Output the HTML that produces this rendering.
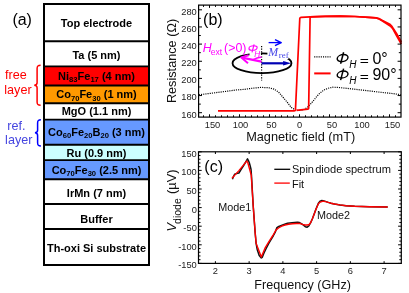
<!DOCTYPE html>
<html><head><meta charset="utf-8"><style>
html,body{margin:0;padding:0;background:#fff;width:409px;height:293px;overflow:hidden}
svg{display:block;font-family:"Liberation Sans", sans-serif;will-change:transform}
</style></head><body>
<svg width="409" height="293" viewBox="0 0 409 293">
<rect width="409" height="293" fill="#fff"/>
<text x="12.4" y="24.9" font-size="16">(a)</text>
<rect x="44" y="66.4" width="105" height="19.10" fill="#ff0000"/>
<rect x="44" y="85.5" width="105" height="17.70" fill="#ff9900"/>
<rect x="44" y="119.6" width="105" height="25.20" fill="#6699ff"/>
<rect x="44" y="144.8" width="105" height="15.30" fill="#ccffff"/>
<rect x="44" y="160.1" width="105" height="19.10" fill="#6699ff"/>
<line x1="44" y1="41.3" x2="149" y2="41.3" stroke="#000" stroke-width="1.9"/>
<line x1="44" y1="66.4" x2="149" y2="66.4" stroke="#000" stroke-width="1.9"/>
<line x1="44" y1="85.5" x2="149" y2="85.5" stroke="#000" stroke-width="1.9"/>
<line x1="44" y1="103.2" x2="149" y2="103.2" stroke="#000" stroke-width="1.9"/>
<line x1="44" y1="119.6" x2="149" y2="119.6" stroke="#000" stroke-width="1.9"/>
<line x1="44" y1="144.8" x2="149" y2="144.8" stroke="#000" stroke-width="1.9"/>
<line x1="44" y1="160.1" x2="149" y2="160.1" stroke="#000" stroke-width="1.9"/>
<line x1="44" y1="179.2" x2="149" y2="179.2" stroke="#000" stroke-width="1.9"/>
<line x1="44" y1="204" x2="149" y2="204" stroke="#000" stroke-width="1.9"/>
<line x1="44" y1="229" x2="149" y2="229" stroke="#000" stroke-width="1.9"/>
<rect x="44" y="4" width="105" height="261.00" fill="none" stroke="#000" stroke-width="2"/>
<text x="96.5" y="26.5" font-size="11" font-weight="bold" text-anchor="middle">Top electrode</text>
<text x="96.5" y="59.3" font-size="11" font-weight="bold" text-anchor="middle">Ta (5 nm)</text>
<text x="96.5" y="79.5" font-size="11" font-weight="bold" text-anchor="middle"><tspan dy="0">Ni</tspan><tspan font-size="7.6" dy="2.3">83</tspan><tspan dy="-2.3">Fe</tspan><tspan font-size="7.6" dy="2.3">17</tspan><tspan dy="-2.3"> (4 nm)</tspan></text>
<text x="96.5" y="98.4" font-size="11" font-weight="bold" text-anchor="middle"><tspan dy="0">Co</tspan><tspan font-size="7.6" dy="2.3">70</tspan><tspan dy="-2.3">Fe</tspan><tspan font-size="7.6" dy="2.3">30</tspan><tspan dy="-2.3"> (1 nm)</tspan></text>
<text x="96.5" y="114.9" font-size="11" font-weight="bold" text-anchor="middle">MgO (1.1 nm)</text>
<text x="96.5" y="135.9" font-size="11" font-weight="bold" text-anchor="middle"><tspan dy="0">Co</tspan><tspan font-size="7.6" dy="2.3">60</tspan><tspan dy="-2.3">Fe</tspan><tspan font-size="7.6" dy="2.3">20</tspan><tspan dy="-2.3">B</tspan><tspan font-size="7.6" dy="2.3">20</tspan><tspan dy="-2.3"> (3 nm)</tspan></text>
<text x="96.5" y="156.5" font-size="11" font-weight="bold" text-anchor="middle">Ru (0.9 nm)</text>
<text x="96.5" y="173.7" font-size="11" font-weight="bold" text-anchor="middle"><tspan dy="0">Co</tspan><tspan font-size="7.6" dy="2.3">70</tspan><tspan dy="-2.3">Fe</tspan><tspan font-size="7.6" dy="2.3">30</tspan><tspan dy="-2.3"> (2.5 nm)</tspan></text>
<text x="96.5" y="196.6" font-size="11" font-weight="bold" text-anchor="middle">IrMn (7 nm)</text>
<text x="96.5" y="222.5" font-size="11" font-weight="bold" text-anchor="middle">Buffer</text>
<text x="96.5" y="251.7" font-size="11" font-weight="bold" text-anchor="middle">Th-oxi Si substrate</text>
<text x="5" y="78.8" font-size="12.6" fill="#ff0000">free</text>
<text x="4.3" y="93.9" font-size="12.6" fill="#ff0000">layer</text>
<text x="7.2" y="129.6" font-size="12.6" fill="#4646e0">ref.</text>
<text x="5.1" y="144.4" font-size="12.6" fill="#4646e0">layer</text>
<path d="M40.6,65.3 C37.7,65.3 37.1,66.1 37.1,68.5 L37.1,82.65 C37.1,84.35 36.2,85.05 34.3,85.25 C36.2,85.45 37.1,86.15 37.1,87.85 L37.1,102.0 C37.1,104.4 37.7,105.2 40.6,105.2" fill="none" stroke="#ff0000" stroke-width="1.5"/>
<path d="M40.9,119.7 C38.2,119.7 37.6,120.5 37.6,122.9 L37.6,130.25 C37.6,131.95 36.7,132.65 35.0,132.85 C36.7,133.04999999999998 37.6,133.75 37.6,135.45 L37.6,142.8 C37.6,145.2 38.2,146.0 40.9,146.0" fill="none" stroke="#0000ff" stroke-width="1.5"/>
<path d="M198.8,94.8 L210,93.4 L223.4,91.7 L236,90 L245,89.3 L253.1,88.1 L261.1,87.4 L269.2,87.8 L273.9,89.1 L278.6,92.1 L283.2,97.5 L287.2,102.2 L291.3,107.6 L294.5,109.4 L297.5,110.4 L300.3,110.5 L304,109.5 L307.7,107.1 L311,103.5 L314,100 L316.7,96.5 L320,93 L324,90 L328,88.3 L332.8,87.2 L338,87.4 L350,88.7 L365,90.4 L380,92.2 L392,93.5 L400.8,94.6" fill="none" stroke="#000" stroke-width="1.2" stroke-dasharray="1.1 1.1"/>
<path d="M218,110.8 L294.2,110.8 Q295.4,110.8 295.45,110 L299.8,18.2 Q300.1,17.4 301,17.35 L310.1,16.9 L325,16.35 L340,16.1 L355,16.5 L368.7,17.3 L376,17.9 Q379,18.2 382,20.2 L390.3,24.6 Q391.5,25.4 392.6,27.4 L396.5,33.5 L401.3,42" fill="none" stroke="#ff0000" stroke-width="1.7" stroke-linejoin="round"/>
<path d="M401.3,44 L396.5,35.5 L393.5,30 Q392.3,27.5 390.6,26.2 L382.5,21 Q379,18.6 376,17.9 L368.7,17.3 L355,16.5 L340,16.1 L325,16.35 L310.1,16.9 L308.65,108.4 Q308.6,109 307.8,109.1 L296.5,110.4" fill="none" stroke="#ff0000" stroke-width="1.7" stroke-linejoin="round"/>
<rect x="198.6" y="5.1" width="202.40" height="112.00" fill="none" stroke="#000" stroke-width="1.2"/>
<line x1="198.6" y1="112.70" x2="202.0" y2="112.70" stroke="#000" stroke-width="1"/>
<line x1="401.0" y1="112.70" x2="397.6" y2="112.70" stroke="#000" stroke-width="1"/>
<line x1="198.6" y1="104.12" x2="200.79999999999998" y2="104.12" stroke="#000" stroke-width="1"/>
<line x1="401.0" y1="104.12" x2="398.8" y2="104.12" stroke="#000" stroke-width="1"/>
<line x1="198.6" y1="95.55" x2="202.0" y2="95.55" stroke="#000" stroke-width="1"/>
<line x1="401.0" y1="95.55" x2="397.6" y2="95.55" stroke="#000" stroke-width="1"/>
<line x1="198.6" y1="86.97" x2="200.79999999999998" y2="86.97" stroke="#000" stroke-width="1"/>
<line x1="401.0" y1="86.97" x2="398.8" y2="86.97" stroke="#000" stroke-width="1"/>
<line x1="198.6" y1="78.40" x2="202.0" y2="78.40" stroke="#000" stroke-width="1"/>
<line x1="401.0" y1="78.40" x2="397.6" y2="78.40" stroke="#000" stroke-width="1"/>
<line x1="198.6" y1="69.83" x2="200.79999999999998" y2="69.83" stroke="#000" stroke-width="1"/>
<line x1="401.0" y1="69.83" x2="398.8" y2="69.83" stroke="#000" stroke-width="1"/>
<line x1="198.6" y1="61.25" x2="202.0" y2="61.25" stroke="#000" stroke-width="1"/>
<line x1="401.0" y1="61.25" x2="397.6" y2="61.25" stroke="#000" stroke-width="1"/>
<line x1="198.6" y1="52.67" x2="200.79999999999998" y2="52.67" stroke="#000" stroke-width="1"/>
<line x1="401.0" y1="52.67" x2="398.8" y2="52.67" stroke="#000" stroke-width="1"/>
<line x1="198.6" y1="44.10" x2="202.0" y2="44.10" stroke="#000" stroke-width="1"/>
<line x1="401.0" y1="44.10" x2="397.6" y2="44.10" stroke="#000" stroke-width="1"/>
<line x1="198.6" y1="35.53" x2="200.79999999999998" y2="35.53" stroke="#000" stroke-width="1"/>
<line x1="401.0" y1="35.53" x2="398.8" y2="35.53" stroke="#000" stroke-width="1"/>
<line x1="198.6" y1="26.95" x2="202.0" y2="26.95" stroke="#000" stroke-width="1"/>
<line x1="401.0" y1="26.95" x2="397.6" y2="26.95" stroke="#000" stroke-width="1"/>
<line x1="198.6" y1="18.38" x2="200.79999999999998" y2="18.38" stroke="#000" stroke-width="1"/>
<line x1="401.0" y1="18.38" x2="398.8" y2="18.38" stroke="#000" stroke-width="1"/>
<line x1="198.6" y1="9.80" x2="202.0" y2="9.80" stroke="#000" stroke-width="1"/>
<line x1="401.0" y1="9.80" x2="397.6" y2="9.80" stroke="#000" stroke-width="1"/>
<line x1="203.50" y1="117.1" x2="203.50" y2="115.3" stroke="#000" stroke-width="1"/>
<line x1="203.50" y1="5.1" x2="203.50" y2="6.8999999999999995" stroke="#000" stroke-width="1"/>
<line x1="209.50" y1="117.1" x2="209.50" y2="114.3" stroke="#000" stroke-width="1"/>
<line x1="209.50" y1="5.1" x2="209.50" y2="7.8999999999999995" stroke="#000" stroke-width="1"/>
<line x1="215.50" y1="117.1" x2="215.50" y2="115.3" stroke="#000" stroke-width="1"/>
<line x1="215.50" y1="5.1" x2="215.50" y2="6.8999999999999995" stroke="#000" stroke-width="1"/>
<line x1="221.50" y1="117.1" x2="221.50" y2="115.3" stroke="#000" stroke-width="1"/>
<line x1="221.50" y1="5.1" x2="221.50" y2="6.8999999999999995" stroke="#000" stroke-width="1"/>
<line x1="227.50" y1="117.1" x2="227.50" y2="115.3" stroke="#000" stroke-width="1"/>
<line x1="227.50" y1="5.1" x2="227.50" y2="6.8999999999999995" stroke="#000" stroke-width="1"/>
<line x1="233.50" y1="117.1" x2="233.50" y2="115.3" stroke="#000" stroke-width="1"/>
<line x1="233.50" y1="5.1" x2="233.50" y2="6.8999999999999995" stroke="#000" stroke-width="1"/>
<line x1="239.50" y1="117.1" x2="239.50" y2="114.3" stroke="#000" stroke-width="1"/>
<line x1="239.50" y1="5.1" x2="239.50" y2="7.8999999999999995" stroke="#000" stroke-width="1"/>
<line x1="245.50" y1="117.1" x2="245.50" y2="115.3" stroke="#000" stroke-width="1"/>
<line x1="245.50" y1="5.1" x2="245.50" y2="6.8999999999999995" stroke="#000" stroke-width="1"/>
<line x1="251.50" y1="117.1" x2="251.50" y2="115.3" stroke="#000" stroke-width="1"/>
<line x1="251.50" y1="5.1" x2="251.50" y2="6.8999999999999995" stroke="#000" stroke-width="1"/>
<line x1="257.50" y1="117.1" x2="257.50" y2="115.3" stroke="#000" stroke-width="1"/>
<line x1="257.50" y1="5.1" x2="257.50" y2="6.8999999999999995" stroke="#000" stroke-width="1"/>
<line x1="263.50" y1="117.1" x2="263.50" y2="115.3" stroke="#000" stroke-width="1"/>
<line x1="263.50" y1="5.1" x2="263.50" y2="6.8999999999999995" stroke="#000" stroke-width="1"/>
<line x1="269.50" y1="117.1" x2="269.50" y2="114.3" stroke="#000" stroke-width="1"/>
<line x1="269.50" y1="5.1" x2="269.50" y2="7.8999999999999995" stroke="#000" stroke-width="1"/>
<line x1="275.50" y1="117.1" x2="275.50" y2="115.3" stroke="#000" stroke-width="1"/>
<line x1="275.50" y1="5.1" x2="275.50" y2="6.8999999999999995" stroke="#000" stroke-width="1"/>
<line x1="281.50" y1="117.1" x2="281.50" y2="115.3" stroke="#000" stroke-width="1"/>
<line x1="281.50" y1="5.1" x2="281.50" y2="6.8999999999999995" stroke="#000" stroke-width="1"/>
<line x1="287.50" y1="117.1" x2="287.50" y2="115.3" stroke="#000" stroke-width="1"/>
<line x1="287.50" y1="5.1" x2="287.50" y2="6.8999999999999995" stroke="#000" stroke-width="1"/>
<line x1="293.50" y1="117.1" x2="293.50" y2="115.3" stroke="#000" stroke-width="1"/>
<line x1="293.50" y1="5.1" x2="293.50" y2="6.8999999999999995" stroke="#000" stroke-width="1"/>
<line x1="299.50" y1="117.1" x2="299.50" y2="114.3" stroke="#000" stroke-width="1"/>
<line x1="299.50" y1="5.1" x2="299.50" y2="7.8999999999999995" stroke="#000" stroke-width="1"/>
<line x1="305.50" y1="117.1" x2="305.50" y2="115.3" stroke="#000" stroke-width="1"/>
<line x1="305.50" y1="5.1" x2="305.50" y2="6.8999999999999995" stroke="#000" stroke-width="1"/>
<line x1="311.50" y1="117.1" x2="311.50" y2="115.3" stroke="#000" stroke-width="1"/>
<line x1="311.50" y1="5.1" x2="311.50" y2="6.8999999999999995" stroke="#000" stroke-width="1"/>
<line x1="317.50" y1="117.1" x2="317.50" y2="115.3" stroke="#000" stroke-width="1"/>
<line x1="317.50" y1="5.1" x2="317.50" y2="6.8999999999999995" stroke="#000" stroke-width="1"/>
<line x1="323.50" y1="117.1" x2="323.50" y2="115.3" stroke="#000" stroke-width="1"/>
<line x1="323.50" y1="5.1" x2="323.50" y2="6.8999999999999995" stroke="#000" stroke-width="1"/>
<line x1="329.50" y1="117.1" x2="329.50" y2="114.3" stroke="#000" stroke-width="1"/>
<line x1="329.50" y1="5.1" x2="329.50" y2="7.8999999999999995" stroke="#000" stroke-width="1"/>
<line x1="335.50" y1="117.1" x2="335.50" y2="115.3" stroke="#000" stroke-width="1"/>
<line x1="335.50" y1="5.1" x2="335.50" y2="6.8999999999999995" stroke="#000" stroke-width="1"/>
<line x1="341.50" y1="117.1" x2="341.50" y2="115.3" stroke="#000" stroke-width="1"/>
<line x1="341.50" y1="5.1" x2="341.50" y2="6.8999999999999995" stroke="#000" stroke-width="1"/>
<line x1="347.50" y1="117.1" x2="347.50" y2="115.3" stroke="#000" stroke-width="1"/>
<line x1="347.50" y1="5.1" x2="347.50" y2="6.8999999999999995" stroke="#000" stroke-width="1"/>
<line x1="353.50" y1="117.1" x2="353.50" y2="115.3" stroke="#000" stroke-width="1"/>
<line x1="353.50" y1="5.1" x2="353.50" y2="6.8999999999999995" stroke="#000" stroke-width="1"/>
<line x1="359.50" y1="117.1" x2="359.50" y2="114.3" stroke="#000" stroke-width="1"/>
<line x1="359.50" y1="5.1" x2="359.50" y2="7.8999999999999995" stroke="#000" stroke-width="1"/>
<line x1="365.50" y1="117.1" x2="365.50" y2="115.3" stroke="#000" stroke-width="1"/>
<line x1="365.50" y1="5.1" x2="365.50" y2="6.8999999999999995" stroke="#000" stroke-width="1"/>
<line x1="371.50" y1="117.1" x2="371.50" y2="115.3" stroke="#000" stroke-width="1"/>
<line x1="371.50" y1="5.1" x2="371.50" y2="6.8999999999999995" stroke="#000" stroke-width="1"/>
<line x1="377.50" y1="117.1" x2="377.50" y2="115.3" stroke="#000" stroke-width="1"/>
<line x1="377.50" y1="5.1" x2="377.50" y2="6.8999999999999995" stroke="#000" stroke-width="1"/>
<line x1="383.50" y1="117.1" x2="383.50" y2="115.3" stroke="#000" stroke-width="1"/>
<line x1="383.50" y1="5.1" x2="383.50" y2="6.8999999999999995" stroke="#000" stroke-width="1"/>
<line x1="389.50" y1="117.1" x2="389.50" y2="114.3" stroke="#000" stroke-width="1"/>
<line x1="389.50" y1="5.1" x2="389.50" y2="7.8999999999999995" stroke="#000" stroke-width="1"/>
<line x1="395.50" y1="117.1" x2="395.50" y2="115.3" stroke="#000" stroke-width="1"/>
<line x1="395.50" y1="5.1" x2="395.50" y2="6.8999999999999995" stroke="#000" stroke-width="1"/>
<text x="196.8" y="117.50" font-size="9.3" text-anchor="end" fill="#222">160</text>
<text x="196.8" y="100.35" font-size="9.3" text-anchor="end" fill="#222">180</text>
<text x="196.8" y="83.20" font-size="9.3" text-anchor="end" fill="#222">200</text>
<text x="196.8" y="66.05" font-size="9.3" text-anchor="end" fill="#222">220</text>
<text x="196.8" y="48.90" font-size="9.3" text-anchor="end" fill="#222">240</text>
<text x="196.8" y="31.75" font-size="9.3" text-anchor="end" fill="#222">260</text>
<text x="196.8" y="14.60" font-size="9.3" text-anchor="end" fill="#222">280</text>
<text x="212.5" y="128.3" font-size="9.3" text-anchor="middle" fill="#222">150</text>
<text x="240.5" y="128.3" font-size="9.3" text-anchor="middle" fill="#222">100</text>
<text x="271.4" y="128.3" font-size="9.3" text-anchor="middle" fill="#222">50</text>
<text x="299.5" y="128.3" font-size="9.3" text-anchor="middle" fill="#222">0</text>
<text x="332" y="128.3" font-size="9.3" text-anchor="middle" fill="#222">50</text>
<text x="362" y="128.3" font-size="9.3" text-anchor="middle" fill="#222">100</text>
<text x="392.5" y="128.3" font-size="9.3" text-anchor="middle" fill="#222">150</text>
<text x="300.7" y="140.6" font-size="12.75" text-anchor="middle" fill="#111">Magnetic field (mT)</text>
<text transform="translate(176.3,61.0) rotate(-90)" x="0" y="0" font-size="12.7" text-anchor="middle" fill="#111">Resistance (Ω)</text>
<text x="203.1" y="24.8" font-size="16">(b)</text>
<line x1="314.2" y1="56.8" x2="330.6" y2="56.8" stroke="#000" stroke-width="1.2" stroke-dasharray="1.1 1.1"/>
<line x1="314.2" y1="73.4" x2="330.6" y2="73.4" stroke="#ff0000" stroke-width="2"/>
<ellipse cx="0" cy="0" rx="5.3" ry="3.55" transform="translate(342.6,58.1) skewX(-14)" fill="none" stroke="#000" stroke-width="1.45"/>
<line x1="343.6" y1="52.2" x2="340.6" y2="63.7" stroke="#000" stroke-width="1.52"/>
<text x="349.3" y="68.0" font-size="10" font-style="italic">H</text>
<text transform="translate(359.7,64.6) scale(1.2,1)" font-size="13">=</text>
<text x="372.4" y="63.6" font-size="16">0°</text>
<ellipse cx="0" cy="0" rx="5.3" ry="3.55" transform="translate(342.6,74.5) skewX(-14)" fill="none" stroke="#000" stroke-width="1.45"/>
<line x1="343.6" y1="68.6" x2="340.6" y2="80.1" stroke="#000" stroke-width="1.52"/>
<text x="349.3" y="84.4" font-size="10" font-style="italic">H</text>
<text transform="translate(359.7,81.0) scale(1.2,1)" font-size="13">=</text>
<text x="372.4" y="80.0" font-size="16">90°</text>
<ellipse cx="262" cy="63.2" rx="29.45" ry="9.9" fill="none" stroke="#000" stroke-width="1.8"/>
<rect x="267.4" y="44" width="21" height="15" fill="#fff"/>
<rect x="249.5" y="44" width="11.4" height="11.3" fill="#fff"/>
<line x1="261.6" y1="46" x2="261.6" y2="80.5" stroke="#000" stroke-width="1.2" stroke-dasharray="1.2 1.4"/>
<line x1="261.5" y1="63.3" x2="284" y2="63.3" stroke="#0000b4" stroke-width="2.2"/>
<path d="M283.1,61.0 L291.2,63.3 L283.1,65.6 Z" fill="#0000b4"/>
<path d="M261.4,61.6 L242,57.6" stroke="#ff00ff" stroke-width="2.1" fill="none"/>
<path d="M248.6,55.2 L241.3,57.5 L248,63.2" stroke="#ff00ff" stroke-width="2" fill="none" stroke-linejoin="round"/>
<path d="M253,59.6 Q257,57.8 261.5,57" stroke="#ff00ff" stroke-width="1.4" fill="none"/>
<text x="202.8" y="51.7" font-size="12.4" font-style="italic" fill="#ff00ff">H</text>
<text x="210.75" y="55.4" font-size="8.6" fill="#ff00ff">ext</text>
<text x="224.1" y="51.8" font-size="12.4" fill="#ff00ff">(&gt;0)</text>
<ellipse cx="0" cy="0" rx="4.05" ry="2.3" transform="translate(253.05,48.0) skewX(-14)" fill="none" stroke="#ff00ff" stroke-width="1.1"/>
<line x1="254.1" y1="44.3" x2="252.0" y2="52.4" stroke="#ff00ff" stroke-width="1.16"/>
<text x="254.15" y="56.6" font-size="8.2" font-style="italic" fill="#ff00ff">H</text>
<text x="268.2" y="55.7" font-size="11.9" font-style="italic" fill="#4848e8" font-family='"Liberation Serif", serif'>M</text>
<text x="278.8" y="58.4" font-size="8.9" fill="#4848e8" font-family='"Liberation Serif", serif'>ref</text>
<line x1="268.6" y1="42.6" x2="280.6" y2="42.6" stroke="#0000ff" stroke-width="1.3"/>
<path d="M275,39.6 L281.2,42.6 L275,45.6" stroke="#0000ff" stroke-width="1.5" fill="none" stroke-linejoin="round"/>
<path d="M232.4,179.3 L233.5,176.5 L234.6,174.2 L236.5,173.6 L238.9,173.1 L241,169.5 L243.3,166 L245.5,162.3 L247.5,158.9 L248.4,160.5 L249.3,162.7 L250.2,166 L251,169.3 L251.5,175.9 L253.2,205.7 L255.1,232 L256.1,243.3 L257.2,249.4 L259.2,255.5 L261.3,257.9 L262.3,257.3 L264,253 L266.4,248 L268.5,243.8 L271,239.6 L273.2,236 L275.5,231.6 L276.9,227.6 L278.8,226.5 L280.8,225.7 L284,224.5 L287.6,223.2 L292,222.8 L297.4,222.3 L299.5,222.6 L301.3,223.6 L303.5,225.2 L305.3,226.7 L307.2,227.2 L308.8,226 L310.5,223 L312.3,219 L314.2,214 L316,209 L318.4,203.3 L320,201.3 L321.5,200.6 L323.3,200.8 L325.5,201.4 L328.2,202.4 L331,203.2 L334.4,204 L340,204.9 L346,205.7 L354.7,206.3 L369.3,206.7 L387.7,207.0" fill="none" stroke="#111" stroke-width="1.5" stroke-linejoin="round"/>
<path d="M232.0,178.3 L235.5,174.4 L238.9,170.6 L242.8,165.9 L246.6,161.1 L247.7,162.2 L249.9,170.4 L251.2,175 L253.2,205.7 L255.1,232 L256.1,243.3 L257.7,247.4 L259.5,252.3 L261.3,257.1 L263.3,252.3 L265.4,247.4 L268,243.2 L270.5,239.2 L272.9,235.5 L275.9,230.1 L278.5,228 L281.8,226.2 L285,225 L288.6,224.2 L292.5,223.7 L296.4,223.5 L300,223.5 L302.5,224.3 L305,225 L307.3,225 L309.2,224.5 L310.7,222.5 L312.3,219 L314.2,214 L316,209.2 L318.4,203.7 L320.2,202.1 L323.3,201.2 L325.5,201.6 L328.2,202.4 L331,203.2 L334.4,204 L340,204.9 L346,205.7 L354.7,206.3 L369.3,206.7 L387.7,207.0" fill="none" stroke="#ff0000" stroke-width="1.4" stroke-linejoin="round"/>
<rect x="198.5" y="151.8" width="202.80" height="111.60" fill="none" stroke="#000" stroke-width="1.2"/>
<line x1="198.5" y1="263.40" x2="201.7" y2="263.40" stroke="#000" stroke-width="1"/>
<line x1="401.3" y1="263.40" x2="398.1" y2="263.40" stroke="#000" stroke-width="1"/>
<line x1="198.5" y1="259.68" x2="200.5" y2="259.68" stroke="#000" stroke-width="1"/>
<line x1="401.3" y1="259.68" x2="399.3" y2="259.68" stroke="#000" stroke-width="1"/>
<line x1="198.5" y1="255.96" x2="200.5" y2="255.96" stroke="#000" stroke-width="1"/>
<line x1="401.3" y1="255.96" x2="399.3" y2="255.96" stroke="#000" stroke-width="1"/>
<line x1="198.5" y1="252.24" x2="200.5" y2="252.24" stroke="#000" stroke-width="1"/>
<line x1="401.3" y1="252.24" x2="399.3" y2="252.24" stroke="#000" stroke-width="1"/>
<line x1="198.5" y1="248.52" x2="200.5" y2="248.52" stroke="#000" stroke-width="1"/>
<line x1="401.3" y1="248.52" x2="399.3" y2="248.52" stroke="#000" stroke-width="1"/>
<line x1="198.5" y1="244.80" x2="201.7" y2="244.80" stroke="#000" stroke-width="1"/>
<line x1="401.3" y1="244.80" x2="398.1" y2="244.80" stroke="#000" stroke-width="1"/>
<line x1="198.5" y1="241.08" x2="200.5" y2="241.08" stroke="#000" stroke-width="1"/>
<line x1="401.3" y1="241.08" x2="399.3" y2="241.08" stroke="#000" stroke-width="1"/>
<line x1="198.5" y1="237.36" x2="200.5" y2="237.36" stroke="#000" stroke-width="1"/>
<line x1="401.3" y1="237.36" x2="399.3" y2="237.36" stroke="#000" stroke-width="1"/>
<line x1="198.5" y1="233.64" x2="200.5" y2="233.64" stroke="#000" stroke-width="1"/>
<line x1="401.3" y1="233.64" x2="399.3" y2="233.64" stroke="#000" stroke-width="1"/>
<line x1="198.5" y1="229.92" x2="200.5" y2="229.92" stroke="#000" stroke-width="1"/>
<line x1="401.3" y1="229.92" x2="399.3" y2="229.92" stroke="#000" stroke-width="1"/>
<line x1="198.5" y1="226.20" x2="201.7" y2="226.20" stroke="#000" stroke-width="1"/>
<line x1="401.3" y1="226.20" x2="398.1" y2="226.20" stroke="#000" stroke-width="1"/>
<line x1="198.5" y1="222.48" x2="200.5" y2="222.48" stroke="#000" stroke-width="1"/>
<line x1="401.3" y1="222.48" x2="399.3" y2="222.48" stroke="#000" stroke-width="1"/>
<line x1="198.5" y1="218.76" x2="200.5" y2="218.76" stroke="#000" stroke-width="1"/>
<line x1="401.3" y1="218.76" x2="399.3" y2="218.76" stroke="#000" stroke-width="1"/>
<line x1="198.5" y1="215.04" x2="200.5" y2="215.04" stroke="#000" stroke-width="1"/>
<line x1="401.3" y1="215.04" x2="399.3" y2="215.04" stroke="#000" stroke-width="1"/>
<line x1="198.5" y1="211.32" x2="200.5" y2="211.32" stroke="#000" stroke-width="1"/>
<line x1="401.3" y1="211.32" x2="399.3" y2="211.32" stroke="#000" stroke-width="1"/>
<line x1="198.5" y1="207.60" x2="201.7" y2="207.60" stroke="#000" stroke-width="1"/>
<line x1="401.3" y1="207.60" x2="398.1" y2="207.60" stroke="#000" stroke-width="1"/>
<line x1="198.5" y1="203.88" x2="200.5" y2="203.88" stroke="#000" stroke-width="1"/>
<line x1="401.3" y1="203.88" x2="399.3" y2="203.88" stroke="#000" stroke-width="1"/>
<line x1="198.5" y1="200.16" x2="200.5" y2="200.16" stroke="#000" stroke-width="1"/>
<line x1="401.3" y1="200.16" x2="399.3" y2="200.16" stroke="#000" stroke-width="1"/>
<line x1="198.5" y1="196.44" x2="200.5" y2="196.44" stroke="#000" stroke-width="1"/>
<line x1="401.3" y1="196.44" x2="399.3" y2="196.44" stroke="#000" stroke-width="1"/>
<line x1="198.5" y1="192.72" x2="200.5" y2="192.72" stroke="#000" stroke-width="1"/>
<line x1="401.3" y1="192.72" x2="399.3" y2="192.72" stroke="#000" stroke-width="1"/>
<line x1="198.5" y1="189.00" x2="201.7" y2="189.00" stroke="#000" stroke-width="1"/>
<line x1="401.3" y1="189.00" x2="398.1" y2="189.00" stroke="#000" stroke-width="1"/>
<line x1="198.5" y1="185.28" x2="200.5" y2="185.28" stroke="#000" stroke-width="1"/>
<line x1="401.3" y1="185.28" x2="399.3" y2="185.28" stroke="#000" stroke-width="1"/>
<line x1="198.5" y1="181.56" x2="200.5" y2="181.56" stroke="#000" stroke-width="1"/>
<line x1="401.3" y1="181.56" x2="399.3" y2="181.56" stroke="#000" stroke-width="1"/>
<line x1="198.5" y1="177.84" x2="200.5" y2="177.84" stroke="#000" stroke-width="1"/>
<line x1="401.3" y1="177.84" x2="399.3" y2="177.84" stroke="#000" stroke-width="1"/>
<line x1="198.5" y1="174.12" x2="200.5" y2="174.12" stroke="#000" stroke-width="1"/>
<line x1="401.3" y1="174.12" x2="399.3" y2="174.12" stroke="#000" stroke-width="1"/>
<line x1="198.5" y1="170.40" x2="201.7" y2="170.40" stroke="#000" stroke-width="1"/>
<line x1="401.3" y1="170.40" x2="398.1" y2="170.40" stroke="#000" stroke-width="1"/>
<line x1="198.5" y1="166.68" x2="200.5" y2="166.68" stroke="#000" stroke-width="1"/>
<line x1="401.3" y1="166.68" x2="399.3" y2="166.68" stroke="#000" stroke-width="1"/>
<line x1="198.5" y1="162.96" x2="200.5" y2="162.96" stroke="#000" stroke-width="1"/>
<line x1="401.3" y1="162.96" x2="399.3" y2="162.96" stroke="#000" stroke-width="1"/>
<line x1="198.5" y1="159.24" x2="200.5" y2="159.24" stroke="#000" stroke-width="1"/>
<line x1="401.3" y1="159.24" x2="399.3" y2="159.24" stroke="#000" stroke-width="1"/>
<line x1="198.5" y1="155.52" x2="200.5" y2="155.52" stroke="#000" stroke-width="1"/>
<line x1="401.3" y1="155.52" x2="399.3" y2="155.52" stroke="#000" stroke-width="1"/>
<line x1="198.5" y1="151.80" x2="201.7" y2="151.80" stroke="#000" stroke-width="1"/>
<line x1="401.3" y1="151.80" x2="398.1" y2="151.80" stroke="#000" stroke-width="1"/>
<line x1="215.40" y1="263.4" x2="215.40" y2="261.2" stroke="#000" stroke-width="1"/>
<line x1="215.40" y1="151.8" x2="215.40" y2="154.0" stroke="#000" stroke-width="1"/>
<text x="215.40" y="274.1" font-size="9.3" text-anchor="middle" fill="#222">2</text>
<line x1="249.14" y1="263.4" x2="249.14" y2="261.2" stroke="#000" stroke-width="1"/>
<line x1="249.14" y1="151.8" x2="249.14" y2="154.0" stroke="#000" stroke-width="1"/>
<text x="249.14" y="274.1" font-size="9.3" text-anchor="middle" fill="#222">3</text>
<line x1="282.88" y1="263.4" x2="282.88" y2="261.2" stroke="#000" stroke-width="1"/>
<line x1="282.88" y1="151.8" x2="282.88" y2="154.0" stroke="#000" stroke-width="1"/>
<text x="282.88" y="274.1" font-size="9.3" text-anchor="middle" fill="#222">4</text>
<line x1="316.62" y1="263.4" x2="316.62" y2="261.2" stroke="#000" stroke-width="1"/>
<line x1="316.62" y1="151.8" x2="316.62" y2="154.0" stroke="#000" stroke-width="1"/>
<text x="316.62" y="274.1" font-size="9.3" text-anchor="middle" fill="#222">5</text>
<line x1="350.36" y1="263.4" x2="350.36" y2="261.2" stroke="#000" stroke-width="1"/>
<line x1="350.36" y1="151.8" x2="350.36" y2="154.0" stroke="#000" stroke-width="1"/>
<text x="350.36" y="274.1" font-size="9.3" text-anchor="middle" fill="#222">6</text>
<line x1="384.10" y1="263.4" x2="384.10" y2="261.2" stroke="#000" stroke-width="1"/>
<line x1="384.10" y1="151.8" x2="384.10" y2="154.0" stroke="#000" stroke-width="1"/>
<text x="384.10" y="274.1" font-size="9.3" text-anchor="middle" fill="#222">7</text>
<text x="196.8" y="268.40" font-size="9.3" text-anchor="end" fill="#222">-150</text>
<text x="196.8" y="249.80" font-size="9.3" text-anchor="end" fill="#222">-100</text>
<text x="196.8" y="231.20" font-size="9.3" text-anchor="end" fill="#222">-50</text>
<text x="196.8" y="212.60" font-size="9.3" text-anchor="end" fill="#222">0</text>
<text x="196.8" y="194.00" font-size="9.3" text-anchor="end" fill="#222">50</text>
<text x="196.8" y="175.40" font-size="9.3" text-anchor="end" fill="#222">100</text>
<text x="196.8" y="156.80" font-size="9.3" text-anchor="end" fill="#222">150</text>
<text x="302.6" y="288.6" font-size="12.6" text-anchor="middle" fill="#111">Frequency (GHz)</text>
<text transform="translate(175.8,231.6) rotate(-90)" font-size="12.8" font-style="italic" fill="#111">V</text>
<text transform="translate(181.3,223.9) rotate(-90)" font-size="10.5" fill="#111">diode</text>
<text transform="translate(175.9,193.9) rotate(-90)" font-size="12.8" fill="#111">(µV)</text>
<text x="204.3" y="171.6" font-size="16">(c)</text>
<line x1="274.3" y1="169.3" x2="290.2" y2="169.3" stroke="#000" stroke-width="1.3"/>
<line x1="274.3" y1="183.1" x2="289.8" y2="183.1" stroke="#ff0000" stroke-width="1.3"/>
<text x="292" y="172.8" font-size="10.95" fill="#111">Spin<tspan dx="-1.8" font-size="11.1"> diode spectrum</tspan></text>
<text x="292" y="188.4" font-size="10.95" fill="#111">Fit</text>
<text x="218.2" y="211.3" font-size="10.8" fill="#111">Mode1</text>
<text x="317.1" y="219.3" font-size="10.8" fill="#111">Mode2</text>
</svg>
</body></html>
